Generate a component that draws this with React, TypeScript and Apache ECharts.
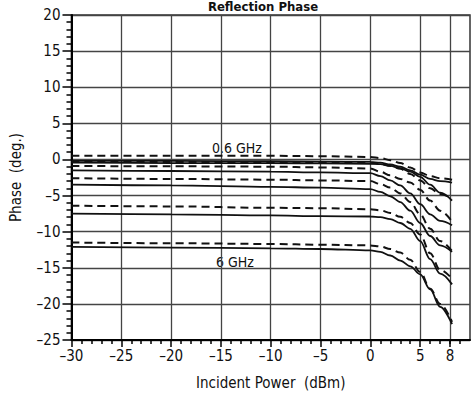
import React, { useEffect, useRef } from "react";
import * as echarts from "echarts";

const FONT = "'Liberation Sans Narrow', 'DejaVu Sans', sans-serif";

// Incident power sample points (dBm)
const powerPoints = [-30, -20, -10, -5, 0, 1, 2, 3, 4, 5, 6, 7, 8.2];

// Reflection phase (deg.) — solid and dashed curve of each frequency, 0.6 GHz (top) ... 6 GHz (bottom)
const p1Dashed = [0.5, 0.5, 0.5, 0.45, 0.35, 0.2, -0.1, -0.5, -1.1, -1.8, -2.3, -2.6, -2.8];
const p1Solid = [-0.2, -0.2, -0.25, -0.3, -0.35, -0.45, -0.7, -1.0, -1.5, -2.1, -2.7, -3.0, -3.2];
const p2Dashed = [-0.35, -0.35, -0.4, -0.45, -0.5, -0.6, -0.9, -1.3, -2.0, -2.9, -4.0, -4.8, -5.4];
const p2Solid = [-0.45, -0.5, -0.5, -0.55, -0.6, -0.65, -0.9, -1.2, -1.7, -2.4, -3.5, -4.6, -5.7];
const p3Dashed = [-0.9, -0.95, -1.0, -1.1, -1.25, -1.7, -2.2, -2.7, -3.2, -4.2, -5.7, -7.1, -8.6];
const p3Solid = [-1.5, -1.6, -1.7, -1.8, -1.9, -2.3, -2.9, -3.6, -4.7, -6.2, -7.6, -8.5, -9.1];
const p4Dashed = [-2.6, -2.7, -2.8, -2.9, -3.0, -3.4, -3.9, -4.7, -5.9, -7.6, -9.6, -11.3, -12.7];
const p4Solid = [-3.5, -3.6, -3.8, -3.9, -4.1, -4.5, -5.1, -5.9, -7.1, -8.8, -10.6, -11.9, -12.8];
const p5Dashed = [-6.4, -6.5, -6.7, -6.75, -6.9, -7.05, -7.4, -7.95, -8.8, -10.4, -13.0, -15.3, -16.5];
const p5Solid = [-7.5, -7.6, -7.75, -7.85, -7.9, -8.0, -8.25, -8.8, -9.6, -11.3, -13.8, -15.8, -17.3];
const p6Dashed = [-11.5, -11.6, -11.7, -11.8, -11.9, -12.05, -12.4, -12.9, -13.9, -15.6, -17.9, -20.0, -22.5];
const p6Solid = [-12.1, -12.2, -12.3, -12.4, -12.6, -12.8, -13.3, -14.0, -14.8, -15.9, -18.0, -20.4, -22.8];

const solidCurves = [p1Solid, p2Solid, p3Solid, p4Solid, p5Solid, p6Solid];
const dashedCurves = [p1Dashed, p2Dashed, p3Dashed, p4Dashed, p5Dashed, p6Dashed];

const xLabelValues = [-30, -25, -20, -15, -10, -5, 0, 5, 8];
const curveLabels = ["0.6 GHz", "6 GHz"];

const minus = (v: number) => String(v).replace("-", "\u2013");

export default function App() {
  const ref = useRef<HTMLDivElement>(null);
  useEffect(() => {
    if (!ref.current) return;
    const chart = echarts.init(ref.current, null, { renderer: "svg" });
    const mk = (vals: number[], dashed: boolean) => ({
      type: "line",
      data: powerPoints.map((x, i) => [x, vals[i]]),
      showSymbol: false,
      smooth: 0.35,
      smoothMonotone: "x",
      lineStyle: {
        color: "#111",
        width: dashed ? 2 : 1.8,
        type: dashed ? [8, 5] : "solid",
      },
      silent: true,
    });
    const series: any[] = [];
    solidCurves.forEach((c) => series.push(mk(c, false)));
    dashedCurves.forEach((c) => series.push(mk(c, true)));

    chart.setOption({
      animation: false,
      backgroundColor: "#fff",
      title: {
        text: "Reflection Phase",
        left: 263,
        textAlign: "center",
        top: 0,
        padding: 0,
        textStyle: { fontFamily: FONT, fontSize: 13, fontWeight: "bold", color: "#111" },
      },
      grid: {
        left: 56,
        right: 4,
        top: 15,
        bottom: 52,
        show: true,
        borderColor: "#333",
        borderWidth: 1.5,
      },
      xAxis: {
        type: "value",
        min: -30,
        max: 10,
        interval: 5,
        name: "Incident Power  (dBm)",
        nameLocation: "middle",
        nameGap: 35,
        nameTextStyle: { fontFamily: FONT, fontSize: 15, color: "#111" },
        axisLine: { show: true, onZero: false, lineStyle: { color: "#000", width: 2 } },
        axisTick: { show: true, inside: false, length: 7, lineStyle: { color: "#000", width: 1.5 }, customValues: xLabelValues },
        minorTick: { show: true, splitNumber: 5, length: 4, lineStyle: { color: "#000", width: 1.5 } },
        axisLabel: {
          customValues: xLabelValues,
          formatter: (v: number) => minus(v),
          fontFamily: FONT,
          fontSize: 15,
          color: "#111",
          margin: 8,
        },
        splitLine: { show: true, lineStyle: { color: "#444", width: 1.3 } },
      },
      yAxis: {
        type: "value",
        min: -25,
        max: 20,
        interval: 5,
        name: "Phase  (deg.)",
        nameLocation: "middle",
        nameGap: 40,
        nameRotate: 90,
        nameTextStyle: { fontFamily: FONT, fontSize: 15, color: "#111" },
        axisLine: { show: true, onZero: false, lineStyle: { color: "#000", width: 2 } },
        axisTick: { show: true, inside: false, length: 9, lineStyle: { color: "#000", width: 1.5 } },
        minorTick: { show: true, splitNumber: 5, length: 5, lineStyle: { color: "#000", width: 1.5 } },
        axisLabel: {
          formatter: (v: number) => minus(v),
          fontFamily: FONT,
          fontSize: 15,
          color: "#111",
          margin: 11,
        },
        splitLine: { show: true, lineStyle: { color: "#444", width: 1.3 } },
      },
      graphic: [
        {
          type: "text",
          x: 237,
          y: 148,
          style: { text: curveLabels[0], fontFamily: FONT, fontSize: 14, fill: "#111", align: "center", verticalAlign: "middle" },
        },
        {
          type: "text",
          x: 235,
          y: 262,
          style: { text: curveLabels[1], fontFamily: FONT, fontSize: 14, fill: "#111", align: "center", verticalAlign: "middle" },
        },
      ],
      series,
    });
    return () => chart.dispose();
  }, []);
  return (
    <>
      <style>{"#root svg text{font-stretch:condensed;}"}</style>
      <div ref={ref} style={{ position: "fixed", left: 0, top: 0, width: 474, height: 395 }} />
    </>
  );
}
